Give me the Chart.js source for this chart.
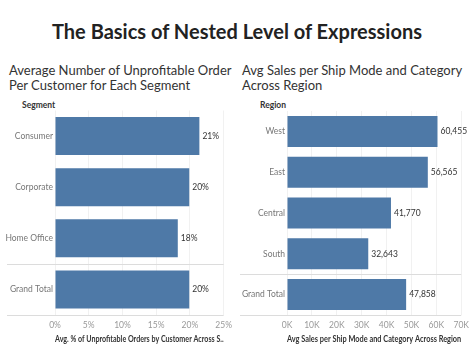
<!DOCTYPE html>
<html><head><meta charset="utf-8">
<script src="https://cdn.jsdelivr.net/npm/chart.js@4"></script>
<style>
html,body{margin:0;padding:0;background:#fff;width:474px;height:355px;overflow:hidden;font-family:Lato,sans-serif;}
#title{position:absolute;left:0;width:474px;top:19px;text-align:center;font-size:20px;font-weight:700;color:#222;white-space:nowrap;}
.sub{position:absolute;top:63px;font-size:13px;line-height:15px;color:#333;white-space:nowrap;}
.hdr{position:absolute;top:100px;font-size:8.5px;font-weight:700;color:#333;}
.cv{position:absolute;top:95px;}
</style></head><body>
<div id="title">The Basics of Nested Level of Expressions</div>
<div class="sub" style="left:9px">Average Number of Unprofitable Order<br>Per Customer for Each Segment</div>
<div class="sub" style="left:242px">Avg Sales per Ship Mode and Category<br>Across Region</div>
<div class="hdr" style="left:22px">Segment</div>
<div class="hdr" style="left:260px">Region</div>
<canvas id="c1" class="cv" style="left:0px" width="237" height="260"></canvas>
<canvas id="c2" class="cv" style="left:237px" width="237" height="260"></canvas>
<script>
const segments = ["Consumer","Corporate","Home Office","Grand Total"];
const segmentPct = [21.4, 19.9, 18.2, 19.9];
const pctTicks = ["0%","5%","10%","15%","20%","25%"];
const regions = ["West","East","Central","South","Grand Total"];
const regionSales = [60455, 56565, 41770, 32643, 47858];
const salesTicks = ["0K","10K","20K","30K","40K","50K","60K","70K"];

const BLUE = "#4e79a7";
const FONT = "Lato, sans-serif";

function linesPlugin(lineLeft, fmt){
  return {
    id:'sep',
    afterDatasetsDraw(chart){
      const ctx = chart.ctx, ca = chart.chartArea, y = chart.scales.y;
      const n = chart.data.labels.length;
      const sepY = (y.getPixelForValue(n-2) + y.getPixelForValue(n-1))/2;
      ctx.save();
      ctx.strokeStyle = "#dcdcdc"; ctx.lineWidth = 1;
      ctx.beginPath();
      ctx.moveTo(lineLeft, Math.round(sepY)+0.5); ctx.lineTo(ca.right, Math.round(sepY)+0.5);
      ctx.moveTo(lineLeft, Math.round(ca.bottom)+0.5); ctx.lineTo(ca.right, Math.round(ca.bottom)+0.5);
      ctx.stroke();
      ctx.fillStyle = "#333"; ctx.font = "8.5px " + FONT; ctx.textBaseline = "middle"; ctx.textAlign = "left";
      const meta = chart.getDatasetMeta(0);
      meta.data.forEach((bar,i)=>{
        const v = chart.data.datasets[0].data[i];
        ctx.fillText(fmt(v), bar.x + 3, bar.y);
      });
      ctx.restore();
    }
  };
}

function makeChart(id, labels, data, max, step, tickLabels, fmt, axisTitle, yWidth, padTop, cat, lineLeft){
  return new Chart(document.getElementById(id), {
    type:'bar',
    data:{labels:labels, datasets:[{data:data, backgroundColor:BLUE, borderWidth:0, categoryPercentage:1, barPercentage:cat}]},
    options:{
      indexAxis:'y', responsive:false, animation:false,
      layout:{padding:{top:padTop, right:5, left:0, bottom:11}},
      plugins:{legend:{display:false}, tooltip:{enabled:false}},
      scales:{
        x:{min:0, max:max, ticks:{stepSize:step, color:"#999", font:{size:8.5, family:FONT}, padding:5,
             callback:(v,i)=>tickLabels[i]},
           grid:{color:"#f1f1f1", drawTicks:false, tickLength:0}, border:{display:false},
           title:{display:true, text:axisTitle, align:'start', color:"#333", font:{size:9, family:FONT, weight:'bold'}, padding:{top:5,bottom:0}},
           afterFit(s){s.height = 29;}},
        y:{ticks:{color:"#777", font:{size:8.5, family:FONT}, padding:2}, grid:{display:false, drawTicks:false, tickLength:0}, border:{display:false},
           afterFit(s){s.width = yWidth;}}
      }
    },
    plugins:[linesPlugin(lineLeft, fmt)]
  });
}

makeChart('c1', segments, segmentPct, 25, 5, pctTicks, v=>Math.round(v)+"%",
  "Avg. % of Unprofitable Orders by Customer Across S..", 55, 15.5, 0.745, 7);
makeChart('c2', regions, regionSales, 70000, 10000, salesTicks, v=>v.toLocaleString('en-US'),
  "Avg Sales per Ship Mode and Category Across Region", 50, 16, 0.76, 3);
</script>
</body></html>
